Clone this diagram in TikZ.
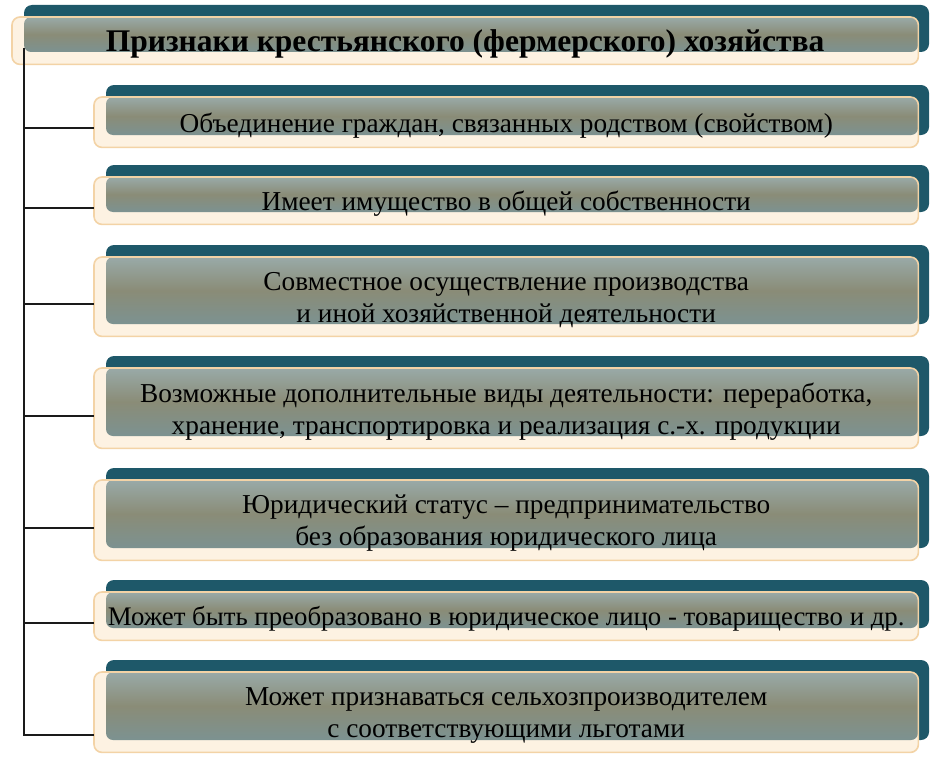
\documentclass[tikz,border=0pt]{standalone}
\usepackage{fontspec}
\setmainfont{Liberation Serif}
\definecolor{tealbk}{HTML}{1E5869}
\definecolor{creamfill}{HTML}{FDF2E2}
\definecolor{creamline}{HTML}{F3D3A6}
\definecolor{gtop}{HTML}{99AAA8}
\definecolor{gmid}{HTML}{8A8C77}
\definecolor{gbot}{HTML}{7C9291}
\definecolor{linec}{HTML}{1A1A1A}
\tikzset{
  backbox/.style={fill=tealbk, rounded corners=8pt},
  creambox/.style={rectangle, fill=creamfill, rounded corners=8pt, inner sep=0pt, anchor=north west},
  graybox/.style={top color=gtop, bottom color=gbot, middle color=gmid, rounded corners=7pt},
  creamedge/.style={draw=creamline, line width=1.6pt, rounded corners=8pt},
  boxtext/.style={align=center, font=\fontsize{27.3}{32}\selectfont, text=black, inner sep=0pt, yshift=-3pt},
  titletext/.style={align=center, font=\fontsize{31.5}{34}\selectfont\bfseries, text=black, inner sep=0pt, yshift=-3pt},
  conn/.style={draw=linec, line width=1.5pt}
}
% #1 name, #2 left, #3 top, #4 bottom
\newcommand\rowshape[4]{%
  \fill[backbox] ({#2+12},{#3-12}) rectangle (929,{#4-12});
  \node[creambox, minimum width={(918-#2)*1pt}, minimum height={(#4-#3)*1pt}] (#1) at (#2,#3) {};
  \shade[graybox] ({#2+12},#3) rectangle (918,{#4-12});
  \draw[creamedge] (#1.north west) rectangle (#1.south east);
}
\begin{document}
\begin{tikzpicture}[x=1pt,y=-1pt]
\useasboundingbox (0,0) rectangle (942,768);
\fill[white] (0,0) rectangle (942,768);

% title
\rowshape{t}{12}{17}{64}
\node[titletext] (tt) at (t.center) {Признаки крестьянского (фермерского) хозяйства};

\rowshape{b1}{94}{97}{147}
\node[boxtext] (t1) at (b1.center) {Объединение граждан, связанных родством (свойством)};

\rowshape{b2}{94}{177}{224}
\node[boxtext] (t2) at (b2.center) {Имеет имущество в общей собственности};

\rowshape{b3}{94}{257}{336}
\node[boxtext] (t3) at (b3.center) {Совместное осуществление производства\\и иной хозяйственной деятельности};

\rowshape{b4}{94}{368}{448}
\node[boxtext] (t4) at (b4.center) {Возможные дополнительные виды деятельности: переработка,\\хранение, транспортировка и реализация с.-х. продукции};

\rowshape{b5}{94}{480}{560}
\node[boxtext] (t5) at (b5.center) {Юридический статус – предпринимательство\\без образования юридического лица};

\rowshape{b6}{94}{592}{640}
\node[boxtext, font=\fontsize{26.8}{32}\selectfont] (t6) at (b6.center) {Может быть преобразовано в юридическое лицо - товарищество и др.};

\rowshape{b7}{94}{672}{752}
\node[boxtext] (t7) at (b7.center) {Может признаваться сельхозпроизводителем\\с соответствующими льготами};

% connectors
\coordinate (v0) at (24,48);
\coordinate (j1) at (24,128);
\coordinate (j2) at (24,208);
\coordinate (j3) at (24,304);
\coordinate (j4) at (24,416);
\coordinate (j5) at (24,528);
\coordinate (j6) at (24,623);
\coordinate (j7) at (24,735);
\draw[conn] (v0) -- ([yshift=-0.75pt]j7);
\foreach \i in {1,...,7}{
  \draw[conn] (j\i) -- (j\i -| b\i.west);
}
\end{tikzpicture}
\end{document}
